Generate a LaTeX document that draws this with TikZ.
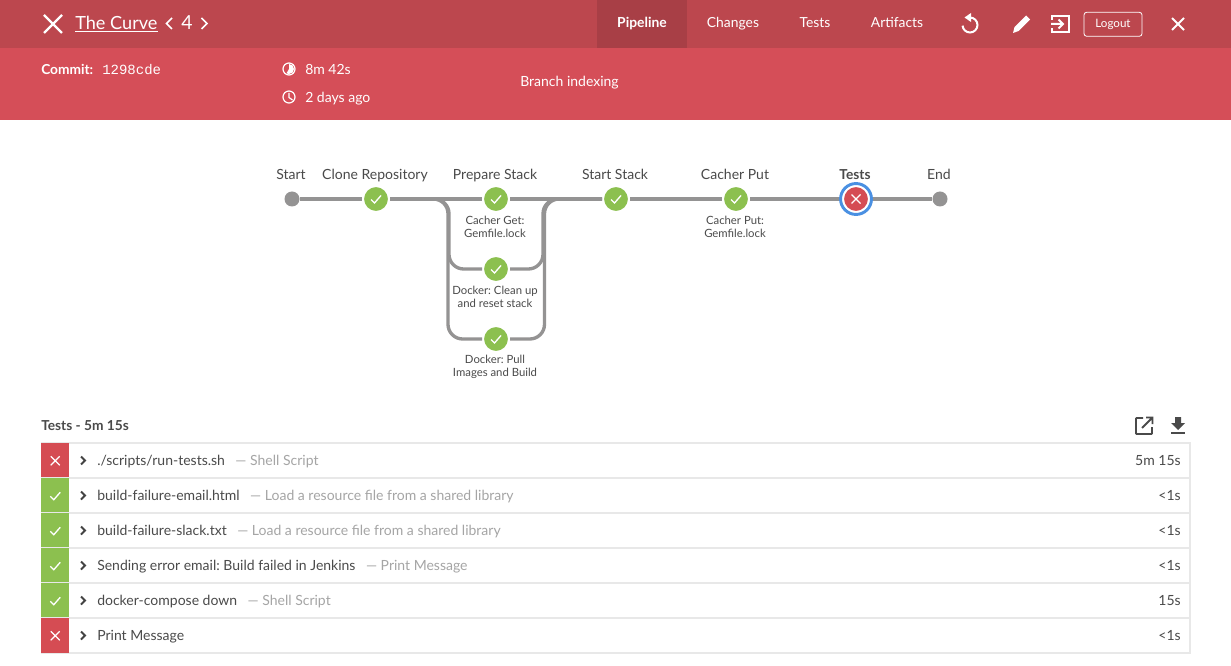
\documentclass[tikz,border=0pt]{standalone}
\usepackage{fontspec}
\setmainfont{Lato}
\newfontfamily\hashfont{Liberation Mono}
\usepackage{xcolor}
\usetikzlibrary{positioning}
\frenchspacing
\definecolor{barred}{HTML}{BC474E}
\definecolor{subred}{HTML}{D54E58}
\definecolor{tabred}{HTML}{A83F46}
\definecolor{okgreen}{HTML}{8CC04F}
\definecolor{failred}{HTML}{D54C53}
\definecolor{focusblue}{HTML}{4A90E2}
\definecolor{pipegray}{HTML}{949393}
\definecolor{inkgray}{HTML}{4A4A4A}
\definecolor{softgray}{HTML}{A5A5A5}
\definecolor{rulegray}{HTML}{E8E8E8}
\tikzset{hdr/.style={text=white, inner sep=0pt, anchor=mid west, yshift=-1.3pt, font=\fontsize{10.5}{12}\selectfont}}
\tikzset{navtab/.style={hdr, anchor=mid, font=\fontsize{10.4}{12}\selectfont}}
\tikzset{stagelbl/.style={text=inkgray, inner sep=0pt, anchor=mid, yshift=-1.3pt, font=\fontsize{10.5}{12}\selectfont}}
\tikzset{steplbl/.style={text=inkgray, inner sep=0pt, align=center, font=\fontsize{8.5}{9.75}\selectfont}}
\tikzset{okstage/.style={circle, fill=okgreen, draw=white, line width=1.5pt, inner sep=0pt, minimum size=19.5pt}}
\tikzset{failstage/.style={okstage, fill=failred}}
\tikzset{enddot/.style={circle, fill=pipegray, inner sep=0pt, minimum size=11.25pt}}
\tikzset{pipe/.style={draw=pipegray, line width=2.5pt}}
\tikzset{rowname/.style={text=inkgray, inner sep=0pt, anchor=base west, font=\fontsize{10.5}{12}\selectfont}}
\tikzset{rowdesc/.style={rowname, text=softgray}}
\tikzset{rowtime/.style={rowname, anchor=base east}}
\tikzset{rowbox/.style={draw=rulegray, line width=1.4pt}}
\tikzset{tick/.pic={\draw[draw=white, line width=1pt] (-5,0.5) -- (-1.5,4) -- (5,-3.5);}}
\tikzset{cross/.pic={\draw[draw=white, line width=1pt] (-4.5,-4.5) -- (4.5,4.5) (-4.5,4.5) -- (4.5,-4.5);}}
\tikzset{chev/.pic={\draw[draw=inkgray!90!black, line width=1.4pt] (-2,-4) -- (2,0) -- (-2,4);}}
% one line of the step list
\newcommand\testrow[6]{
	\draw[rowbox] (42,#2) rectangle (1190,#2+35);
	\node[fill=#3, minimum width=21pt, minimum height=26.25pt, inner sep=0pt, anchor=north west] (#1s) at (41,#2) {};
	\pic at (#1s.center) {#4};
	\pic at (83,#2+17.5) {chev};
	\node[rowname] (#1) at (97,#2+22) {#5};
	\node[rowtime] (#1t) at (1181,#2+22) {#6};
}
\begin{document}
\begin{tikzpicture}[x=0.75pt, y=-0.75pt]
	\useasboundingbox (0,0) rectangle (1231,666);
	\fill[white] (0,0) rectangle (1231,666);

	% header
	\fill[barred] (0,0) rectangle (1231,48);
	\fill[subred] (0,48) rectangle (1231,120);
	\fill[tabred] (597,0) rectangle (687,48);
	\draw[white, line width=1.7pt] (44,15) -- (62,33) (44,33) -- (62,15);
	\node[hdr, font=\fontsize{13.6}{16}\selectfont] (title) at (75,24) {\underline{The Curve}};
	\draw[white, line width=1.3pt] (172,18) -- (166.5,23.5) -- (172,29);
	\node[hdr, font=\fontsize{14.5}{16}\selectfont] (run) at (181,24) {4};
	\draw[white, line width=1.3pt] (201.5,18) -- (207,23.5) -- (201.5,29);

	\node[navtab, font=\bfseries\fontsize{10.4}{12}\selectfont] (pipeline) at (642,22) {Pipeline};
	\node[navtab] (changes) at (733,22) {Changes};
	\node[navtab] (tests) at (815,22) {Tests};
	\node[navtab] (artifacts) at (897,22) {Artifacts};

	\draw[white, line width=1.5pt] (970,17.5) arc[start angle=-90, end angle=175, radius=7.5];
	\fill[white] (971,13) -- (971,22) -- (964.5,17.5) -- cycle;
	\fill[white] (1013,33) -- (1014.5,27) -- (1026,15.5) -- (1030,19.5) -- (1018.5,31) -- cycle;
	\draw[white, line width=1.5pt] (1052,20) -- (1052,16) -- (1069,16) -- (1069,32) -- (1052,32) -- (1052,28);
	\draw[white, line width=1.5pt] (1051,24) -- (1063,24) (1058.5,19.5) -- (1063,24) -- (1058.5,28.5);
	\node[navtab, yshift=1.3pt, draw=white, rounded corners=2pt, line width=0.6pt, minimum width=43.5pt, minimum height=18pt, font=\fontsize{8.7}{10}\selectfont] (logout) at (1113,24) {Logout};
	\draw[white, line width=1.5pt] (1172,18) -- (1184,30) (1172,30) -- (1184,18);

	\node[hdr, font=\bfseries\fontsize{10.3}{12}\selectfont] (commit) at (41,69) {Commit:};
	\node[hdr, font=\hashfont\fontsize{10.5}{12}\selectfont] (hash) at (102,69) {1298cde};
	\draw[white, line width=0.9pt] (289,69) circle (6);
	\fill[white] (289,69) -- (289,64) arc[start angle=-90, end angle=120, radius=5] -- cycle;
	\node[hdr] (took) at (305,69) {8m 42s};
	\draw[white, line width=0.9pt] (289,97) circle (6) (289,93) -- (289,97.5) -- (292.5,100);
	\node[hdr] (ago) at (305,97) {2 days ago};
	\node[hdr] (cause) at (520,81) {Branch indexing};

	% stages
	\node[enddot] (start) at (292,199) {};
	\node[okstage] (clone) at (376,199) {};
	\node[okstage] (cacherget) at (496,199) {};
	\node[okstage] (cleanup) at (496,269) {};
	\node[okstage] (pull) at (496,339) {};
	\node[okstage] (startstack) at (616,199) {};
	\node[okstage] (cacherput) at (736,199) {};
	\node[failstage] (testsrun) at (856,199) {};
	\node[circle, draw=focusblue, line width=2.2pt, inner sep=0pt, minimum size=23.2pt] (testsring) at (856,199) {};
	\node[enddot] (end) at (940,199) {};
	\foreach \s in {clone,cacherget,cleanup,pull,startstack,cacherput}
		\pic at (\s.center) {tick};
	\pic at (testsrun.center) {cross};

	\coordinate (splitA) at (449,199);
	\coordinate (splitB) at (448,199);
	\coordinate (joinA) at (543,199);
	\coordinate (joinB) at (544.5,199);
	\coordinate (lowA) at (449,269);
	\coordinate (lowB) at (448,339);
	\coordinate (upA) at (543,269);
	\coordinate (upB) at (544.5,339);

	\draw[pipe] (start) -- (clone);
	\draw[pipe] (clone) -- (cacherget);
	\draw[pipe] (cacherget) -- (startstack);
	\draw[pipe] (startstack) -- (cacherput);
	\draw[pipe] (cacherput) -- (testsring);
	\draw[pipe] (testsring) -- (end);
	\draw[pipe, rounded corners=11pt] (clone) -- (splitA) -- (lowA) -- (cleanup);
	\draw[pipe, rounded corners=11pt] (clone) -- (splitB) -- (lowB) -- (pull);
	\draw[pipe, rounded corners=11pt] (cleanup) -- (upA) -- (joinA) -- (startstack);
	\draw[pipe, rounded corners=11pt] (pull) -- (upB) -- (joinB) -- (startstack);

	\node[stagelbl] (startlbl) at (291,174) {Start};
	\node[stagelbl] (clonelbl) at (375,174) {Clone Repository};
	\node[stagelbl] (preplbl) at (495,174) {Prepare Stack};
	\node[stagelbl] (stacklbl) at (615,174) {Start Stack};
	\node[stagelbl] (putlbl) at (735,174) {Cacher Put};
	\node[stagelbl, font=\bfseries\fontsize{10.3}{12}\selectfont] (testslbl) at (855,174) {Tests};
	\node[stagelbl] (endlbl) at (939,174) {End};
	\node[steplbl] (getstep) at (495,226.5) {Cacher Get:\\Gemfile.lock};
	\node[steplbl] (cleanstep) at (495,296.5) {Docker: Clean up\\and reset stack};
	\node[steplbl] (pullstep) at (495,367.3) {Docker: Pull\\Images and Build};
	\node[steplbl] (putstep) at (735,226.5) {Cacher Put:\\Gemfile.lock};

	% step list
	\node[rowname, yshift=-1.3pt, font=\bfseries\fontsize{10.3}{12}\selectfont, anchor=mid west] (listhead) at (41,425) {Tests - 5m 15s};
	\draw[inkgray, line width=1.4pt, rounded corners=0.5pt] (1143,418) -- (1136,418) -- (1136,434) -- (1152,434) -- (1152,427);
	\draw[inkgray, line width=1.4pt] (1142,428) -- (1152,418) (1146,417.5) -- (1152.5,417.5) -- (1152.5,424);
	\fill[inkgray] (1175,417) -- (1181,417) -- (1181,423) -- (1185,423) -- (1178,430) -- (1171,423) -- (1175,423) -- cycle;
	\draw[inkgray, line width=1.3pt] (1171,433) -- (1185,433);

	\testrow{rowa}{443}{failred}{cross}{./scripts/run-tests.sh}{5m 15s}
	\testrow{rowb}{478}{okgreen}{tick}{build-failure-email.html}{<1s}
	\testrow{rowc}{513}{okgreen}{tick}{build-failure-slack.txt}{<1s}
	\testrow{rowd}{548}{okgreen}{tick}{Sending error email: Build failed in Jenkins}{<1s}
	\testrow{rowe}{583}{okgreen}{tick}{docker-compose down}{15s}
	\testrow{rowf}{618}{failred}{cross}{Print Message}{<1s}
	\node[rowdesc, right=7.5pt of rowa.base east, anchor=base west] (desca) {— Shell Script};
	\node[rowdesc, right=7.5pt of rowb.base east, anchor=base west] (descb) {— Load a resource file from a shared library};
	\node[rowdesc, right=7.5pt of rowc.base east, anchor=base west] (descc) {— Load a resource file from a shared library};
	\node[rowdesc, right=7.5pt of rowd.base east, anchor=base west] (descd) {— Print Message};
	\node[rowdesc, right=7.5pt of rowe.base east, anchor=base west] (desce) {— Shell Script};
\end{tikzpicture}
\end{document}
